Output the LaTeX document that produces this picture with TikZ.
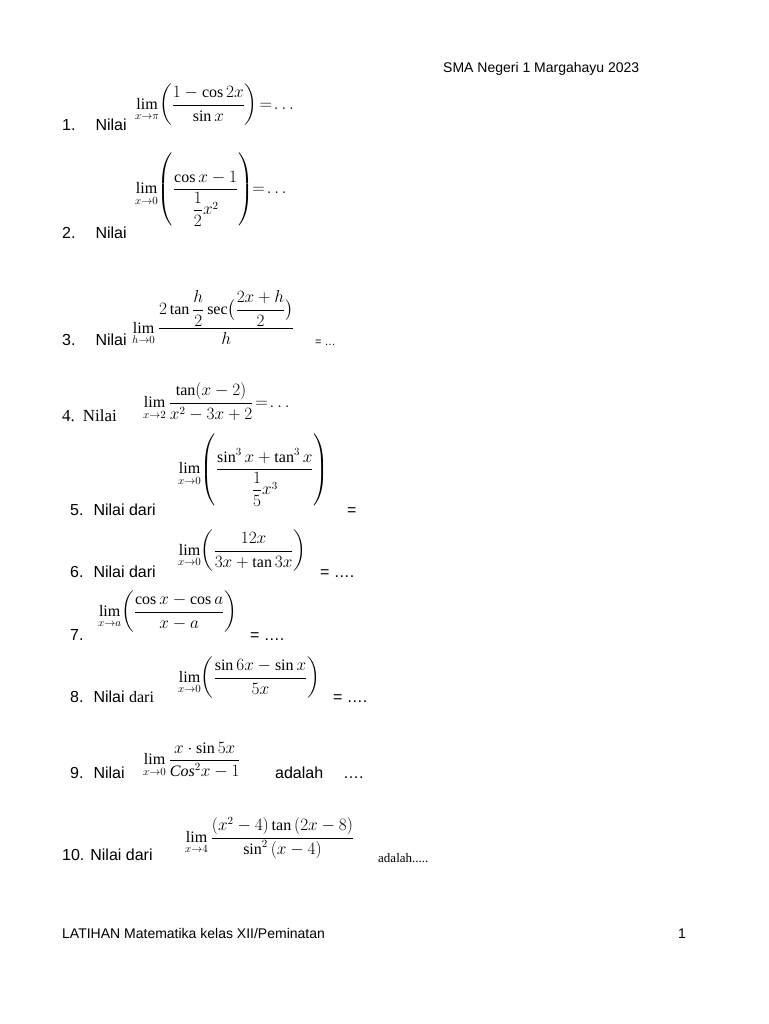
\documentclass[tikz,border=0pt]{standalone}
\usepackage{amsmath}
\usepackage{fontspec}
\setmainfont{Liberation Serif}
\setsansfont{Liberation Sans}
\newfontfamily\serifx{Liberation Serif}
\begin{document}
\begin{tikzpicture}[x=1pt,y=-1pt]
\useasboundingbox (0,0) rectangle (768,1024);
\tikzset{lbl/.style={anchor=base west,inner sep=0pt,font=\sffamily\fontsize{16}{18}\selectfont},
 mth/.style={anchor=west,inner sep=0pt,font=\fontsize{16}{19}\selectfont},
 hdr/.style={anchor=base west,inner sep=0pt,font=\sffamily\fontsize{14}{16}\selectfont}}
\node[hdr] (h) at (443,73) {SMA Negeri 1 Margahayu 2023};
% 1
\node[lbl] (n1) at (62,131) {1.\hspace{20pt}Nilai};
\node[mth] (m1) at (135,105) {$\displaystyle\lim_{x\to\pi}\!\left(\frac{1-\cos 2x}{\sin x}\right)\!=\!\dots$};
% 2
\node[lbl] (n2) at (62,239) {2.\hspace{20pt}Nilai};
\node[mth] (m2) at (135,190) {$\displaystyle\lim_{x\to0}\!\left(\frac{\cos x-1}{\dfrac12 x^2}\right)\!\!=\!\dots$};
% 3
\node[lbl] (n3) at (62,345) {3.\hspace{20pt}Nilai};
\node[mth] (m3) at (132,318) {$\displaystyle\lim_{h\to0}\frac{2\tan\dfrac h2\sec\bigl(\dfrac{2x+h}{2}\bigr)}{h}$};
\node[lbl,font=\sffamily\fontsize{11}{13}\selectfont] (e3) at (315,345) {= \dots};
% 4
\node[lbl,font=\serifx\fontsize{17}{18}\selectfont] (n4) at (62,421) {4.\hspace{8pt}Nilai};
\node[mth] (m4) at (143,402) {$\displaystyle\lim_{x\to2}\frac{\tan(x-2)}{x^2-3x+2}\!=\!\dots$};
% 5
\node[lbl] (n5) at (70,515) {5.\hspace{10pt}Nilai dari};
\node[mth] (m5) at (178,470) {$\displaystyle\lim_{x\to0}\!\left(\frac{\sin^3 x+\tan^3 x}{\dfrac15 x^3}\right)$};
\node[lbl] (e5) at (347,515) {=};
% 6
\node[lbl] (n6) at (70,577) {6.\hspace{10pt}Nilai dari};
\node[mth] (m6) at (178,551) {$\displaystyle\lim_{x\to0}\!\left(\frac{12x}{3x+\tan 3x}\right)$};
\node[lbl] (e6) at (320,577) {= ….};
% 7
\node[lbl] (n7) at (70,640) {7.};
\node[mth] (m7) at (98,612) {$\displaystyle\lim_{x\to a}\!\left(\frac{\cos x-\cos a}{x-a}\right)$};
\node[lbl] (e7) at (250,640) {= ….};
% 8
\node[lbl] (n8) at (70,702) {8.\hspace{10pt}Nilai {\serifx dari}};
\node[mth] (m8) at (178,678) {$\displaystyle\lim_{x\to0}\!\left(\frac{\sin 6x-\sin x}{5x}\right)$};
\node[lbl] (e8) at (333,702) {= ….};
% 9
\node[lbl] (n9) at (70,778) {9.\hspace{10pt}Nilai};
\node[mth] (m9) at (143,760) {$\displaystyle\lim_{x\to0}\frac{x\cdot\sin 5x}{\mathit{Cos}^2x-1}$};
\node[lbl] (e9) at (275,778) {adalah\hspace{20pt}….};
% 10
\node[lbl] (n10) at (62,860) {10. Nilai dari};
\node[mth] (m10) at (185,838) {$\displaystyle\lim_{x\to4}\frac{\left(x^2-4\right)\tan\left(2x-8\right)}{\sin^2\left(x-4\right)}$};
\node[lbl,font=\serifx\fontsize{13}{15}\selectfont] (e10) at (378,862) {adalah.....};
% footer
\node[hdr] (f1) at (62,938) {LATIHAN Matematika kelas XII/Peminatan};
\node[hdr] (f2) at (678,938) {1};
\end{tikzpicture}
\end{document}
